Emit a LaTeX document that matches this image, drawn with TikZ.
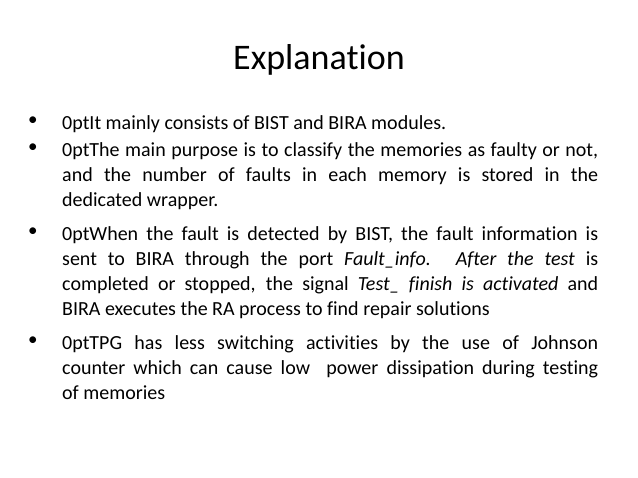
\documentclass[tikz,border=0pt]{standalone}
\usepackage{fontspec}
\setmainfont{Carlito}[Ligatures=NoCommon]
\begin{document}
\begin{tikzpicture}[x=1bp,y=-1bp,
  body/.style={anchor=north west,inner sep=0pt,text width=536bp,align=justify,
    font=\fontsize{20bp}{25bp}\selectfont\hyphenpenalty=10000\emergencystretch=200bp},
  bul/.style={anchor=north west,inner sep=0pt,font=\fontsize{19bp}{25bp}\selectfont}]
\useasboundingbox (0,0) rectangle (638,478);
\node[font=\fontsize{36bp}{40bp}\selectfont] (title) at (319,60) {Explanation};
\node[bul] (b1) at (28,117) {•};
\node[body] (t1) at (62,115) {It mainly consists of BIST and BIRA modules.};
\node[bul] (b2) at (28,144) {•};
\node[body] (t2) at (62,142) {The main purpose is to classify the memories as faulty or not,\linebreak and the number of faults in each memory is stored in the\linebreak dedicated wrapper.};
\node[bul] (b3) at (28,228) {•};
\node[body] (t3) at (62,226) {When the fault is detected by BIST, the fault information is\linebreak sent to BIRA through the port \textit{Fault\_info. After the test} is\linebreak completed or stopped, the signal \textit{Test\_ finish is activated} and\linebreak BIRA executes the RA process to find repair solutions};
\node[bul] (b4) at (28,337) {•};
\node[body] (t4) at (62,335) {TPG has less switching activities by the use of Johnson\linebreak counter which can cause low\ \ power dissipation during testing\linebreak of memories};
\end{tikzpicture}
\end{document}
